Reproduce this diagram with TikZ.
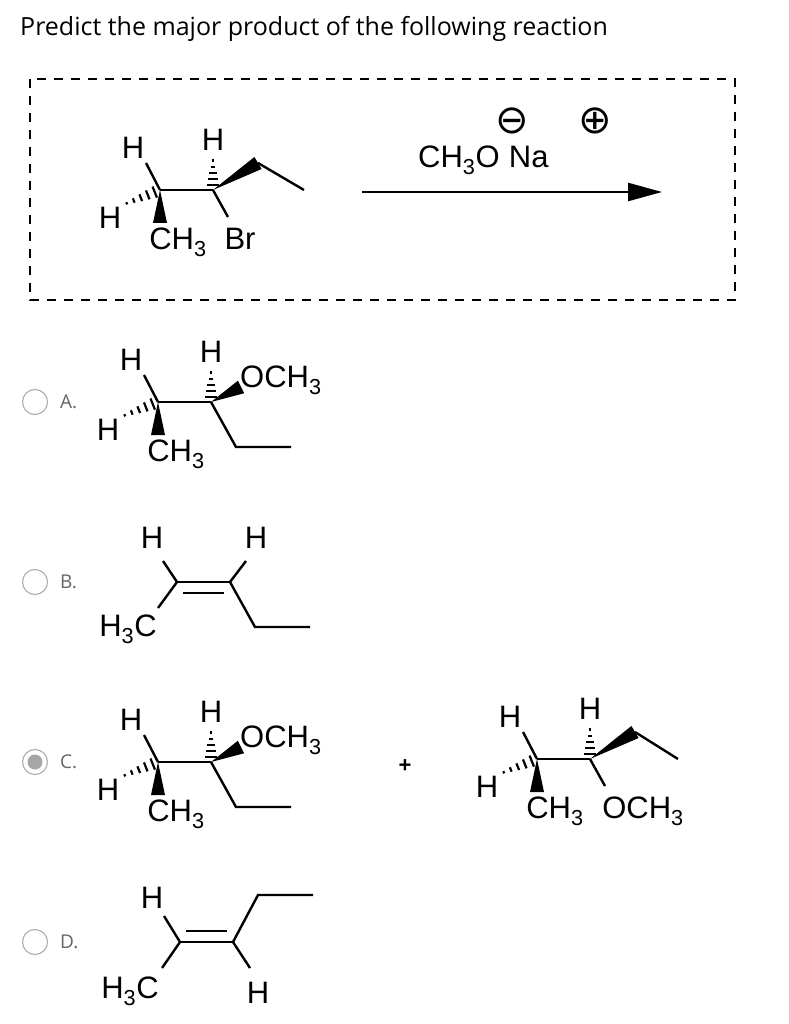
\documentclass[tikz,border=0pt]{standalone}
\usepackage{fontspec}
\setmainfont{Liberation Sans}
\newfontfamily\titlefont{Open Sans}
\newfontfamily\symfont{DejaVu Sans}
\usetikzlibrary{calc,arrows.meta}
\tikzset{
  bond/.style={line width=2.4pt},
  lbl/.style={inner sep=0pt,font=\fontsize{31}{34}\selectfont},
  radio/.style={draw=gray!60,line width=1.2pt,circle,minimum size=25pt,inner sep=0pt},
  letter/.style={font=\titlefont\fontsize{19}{22}\selectfont,text=gray!80!black,anchor=west,inner sep=0pt},
  charge/.style={font=\symfont\fontsize{40}{42}\selectfont,inner sep=0pt}
}
\newcommand{\hashwedge}[2]{%
  \foreach \t in {0.15,0.35,0.55,0.75,0.95}{%
    \draw[line width=2.2pt] ($(#1)!\t!(#2)!{(1.15-\t)*6pt}!90:(#2)$) -- ($(#1)!\t!(#2)!{(1.15-\t)*6pt}!-90:(#2)$);}}
\newcommand{\boldwedge}[2]{%
  \fill ($(#2)!7pt!90:(#1)$) -- (#1) -- ($(#2)!7pt!-90:(#1)$) -- cycle;}
\newcommand{\satmol}[3]{%
\begin{scope}[shift={(#1)}]
  \coordinate (#2c2) at (0,0); \coordinate (#2c3) at (53,0);
  \node[lbl] (#2h1) at (-27,-42) {H};
  \node[lbl] (#2h2) at (-50,28) {H};
  \node[lbl] (#2h3) at (53,-50) {H};
  \node[lbl] (#2me) at (18,52) {CH\textsubscript{3}};
  \coordinate (#2hb) at (-14,-27);
  \coordinate (#2hh) at (-35,14);
  \coordinate (#2mw) at (0,33);
  \coordinate (#2hu) at (53,-31);
  \draw[bond] (#2c2) -- (#2c3);
  \draw[bond] (#2c2) -- (#2hb);
  \hashwedge{#2c2}{#2hh}
  \boldwedge{#2c2}{#2mw}
  \hashwedge{#2c3}{#2hu}
  #3
\end{scope}}
\begin{document}
\begin{tikzpicture}[x=1pt,y=-1pt]
\useasboundingbox (0,0) rectangle (788,1024);
\node[font=\titlefont\fontsize{25}{28}\selectfont,anchor=west,inner sep=0pt] (title) at (20,29) {Predict the major product of the following reaction};
\draw[line width=2.5pt,dash pattern=on 9pt off 8pt] (30,79) rectangle (735,300);
% reactant
\satmol{160,190}{r}{%
  \coordinate (rw) at (98,-27); \coordinate (re) at (144,0);
  \boldwedge{rc3}{rw}
  \draw[bond] (rw) -- (re);
  \coordinate (rbr) at (68,27);
  \draw[bond] (rc3) -- (rbr);
  \node[lbl] (rbrl) at (80,49) {Br};}
\coordinate (a1) at (362,192); \coordinate (a2) at (662,192);
\draw[line width=2.5pt,-{Triangle[length=34pt,width=18pt]}] (a1) -- (a2);
\node[lbl,anchor=base west] (reag) at (418,168) {CH\textsubscript{3}O\hspace{0.3em}Na};
\node[charge] (minus) at (512,121) {⊖};
\node[charge] (plus) at (595,121) {⊕};
% options
\foreach \y/\l/\n in {402/A/a,582/B/b,762/C/c,942/D/d}{
  \node[radio] (r\n) at (35,\y) {};
  \node[letter] (l\n) at (60,\y) {\l.};
}
\fill[gray!70] (rc) circle (7.5pt);
% A
\satmol{158,402}{a}{%
  \coordinate (aw) at (83,-15); \boldwedge{ac3}{aw}
  \node[lbl,anchor=west] (aoc) at (82,-22) {OCH\textsubscript{3}};
  \coordinate (ad) at (78,45); \coordinate (ae) at (133,45);
  \draw[bond] (ac3) -- (ad) -- (ae);}
% C
\satmol{158,762}{c}{%
  \coordinate (cw) at (83,-15); \boldwedge{cc3}{cw}
  \node[lbl,anchor=west] (coc) at (82,-22) {OCH\textsubscript{3}};
  \coordinate (cd) at (78,45); \coordinate (ce) at (133,45);
  \draw[bond] (cc3) -- (cd) -- (ce);}
\node[font=\bfseries\fontsize{22}{24}\selectfont,inner sep=0pt] (cplus) at (405,766) {+};
\satmol{537,759}{p}{%
  \coordinate (pw) at (98,-27); \coordinate (pe) at (141,0);
  \boldwedge{pc3}{pw}
  \draw[bond] (pw) -- (pe);
  \coordinate (pbr) at (68,27);
  \draw[bond] (pc3) -- (pbr);
  \node[lbl] (pol) at (106,52) {OCH\textsubscript{3}};}
% B
\coordinate (b2) at (177,582); \coordinate (b3) at (230,582);
\draw[bond] (b2) -- (b3);
\draw[bond] (183,593) -- (224,593);
\node[lbl] (bh1) at (152,538) {H};
\node[lbl] (bh2) at (256,538) {H};
\coordinate (bh1e) at (163,561); \coordinate (bh2e) at (246,561);
\draw[bond] (b2) -- (bh1e); \draw[bond] (b3) -- (bh2e);
\coordinate (bme) at (158,608);
\draw[bond] (b2) -- (bme);
\node[lbl] (bmel) at (128,629) {H\textsubscript{3}C};
\coordinate (bd) at (255,627); \coordinate (be) at (310,627);
\draw[bond] (b3) -- (bd) -- (be);
% D
\coordinate (d2) at (180,942); \coordinate (d3) at (233,942);
\draw[bond] (d2) -- (d3);
\draw[bond] (186,931) -- (227,931);
\node[lbl] (dh1) at (152,898) {H};
\coordinate (dh1e) at (164,916);
\draw[bond] (d2) -- (dh1e);
\coordinate (dme) at (162,968);
\draw[bond] (d2) -- (dme);
\node[lbl] (dmel) at (130,991) {H\textsubscript{3}C};
\coordinate (dd) at (258,895); \coordinate (de) at (313,895);
\draw[bond] (d3) -- (dd) -- (de);
\coordinate (dh2e) at (250,968);
\draw[bond] (d3) -- (dh2e);
\node[lbl] (dh2) at (258,993) {H};
\end{tikzpicture}
\end{document}
